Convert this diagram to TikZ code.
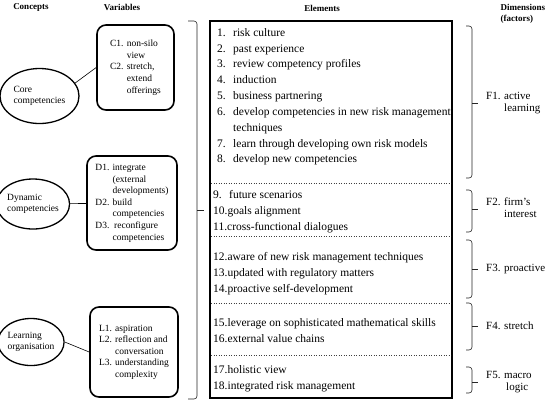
\documentclass[tikz,border=0pt]{standalone}
\usepackage{fontspec}
\setmainfont{Liberation Serif}
\usetikzlibrary{shapes.geometric}

\begin{document}
\begin{tikzpicture}[
  x=1pt, y=-1pt,
  concept/.style={ellipse, draw, line width=1.3pt, inner sep=0pt,
                  align=left, font=\fontsize{9.5}{11.5}\selectfont},
  varbox/.style={rectangle, rounded corners=9pt, draw, line width=1.6pt,
                 align=left, inner sep=0pt,
                 font=\fontsize{9.5}{11.6}\selectfont},
  header/.style={align=left, font=\fontsize{9}{11}\selectfont\bfseries},
  elem/.style={anchor=north west, align=left, inner sep=0pt,
               font=\fontsize{11.5}{15.85}\selectfont},
  factor/.style={anchor=west, inner sep=0pt,
                 font=\fontsize{11}{12.5}\selectfont},
  divider/.style={dotted, line width=0.5pt, black!75},
  brace/.style={line width=0.6pt, rounded corners=3pt, black!85},
  link/.style={line width=0.6pt}
]
\useasboundingbox (0,0) rectangle (551,400);

% column headings
\node[header] (hconc) at (31,7)   {Concepts};
\node[header] (hvar)  at (122,7)  {Variables};
\node[header] (helem) at (322,8)  {Elements};
\node[header, anchor=west] (hdim) at (497,14) {Dimensions\\(factors)};

% concepts
\node[concept, minimum width=79pt, minimum height=55pt] (core) at (39.5,96)
  {Core\\competencies};
\node[concept, minimum width=66pt, minimum height=50pt] (dyn)  at (33,204)
  {Dynamic\\competencies};
\node[concept, minimum width=62pt, minimum height=47pt] (learn) at (31,342)
  {Learning\\organisation};

% variables
\node[varbox, minimum width=77pt, minimum height=85pt] (cvar) at (135.5,67.5)
  {\begin{tabular}{@{}l@{ }l@{}}C1. & non-silo\\ & view\\C2. & stretch,\\ & extend\\ & offerings\end{tabular}};
\node[varbox, minimum width=90pt, minimum height=94pt] (dvar) at (132,203)
  {\begin{tabular}{@{}l@{ }l@{}}D1. & integrate\\ & (external\\ & developments)\\D2. & build\\ & competencies\\D3. & \,reconfigure\\ & competencies\end{tabular}};
\node[varbox, minimum width=88pt, minimum height=90pt] (lvar) at (134,352)
  {\begin{tabular}{@{}l@{ }l@{}}L1. & aspiration\\L2. & reflection and\\ & conversation\\L3. & understanding\\ & complexity\end{tabular}};

\draw[link] (core.20) -- (cvar.west);
\draw[link] (dyn) -- (dvar);
\draw[link] (learn.east) -- (lvar.west);

% elements
\node[draw, line width=1.6pt, minimum width=242pt, minimum height=377pt,
      inner sep=0pt] (elems) at (331,209.5) {};
\coordinate (d1) at (211,183);
\coordinate (d2) at (211,236);
\coordinate (d3) at (211,303);
\coordinate (d4) at (211,355);
\draw[divider] (d1) -- ++(240,0);
\draw[divider] (d2) -- ++(240,0);
\draw[divider] (d3) -- ++(240,0);
\draw[divider] (d4) -- ++(240,0);

\node[elem] (sec1) at (217,28) {%
  \makebox[16pt][l]{1.}risk culture\\
  \makebox[16pt][l]{2.}past experience\\
  \makebox[16pt][l]{3.}review competency profiles\\
  \makebox[16pt][l]{4.}induction\\
  \makebox[16pt][l]{5.}business partnering\\
  \makebox[16pt][l]{6.}develop competencies in new risk management\\
  \hspace*{16pt}techniques\\
  \makebox[16pt][l]{7.}learn through developing own risk models\\
  \makebox[16pt][l]{8.}develop new competencies};
\node[elem] (sec2) at (213,190) {%
  \makebox[16pt][l]{9.}future scenarios\\
  10.goals alignment\\
  11.cross-functional dialogues};
\node[elem] (sec3) at (213,252) {%
  12.aware of new risk management techniques\\
  13.updated with regulatory matters\\
  14.proactive self-development};
\node[elem] (sec4) at (213,318) {%
  15.leverage on sophisticated mathematical skills\\
  16.external value chains};
\node[elem] (sec5) at (213,365) {%
  17.holistic view\\
  18.integrated risk management};

% brace gathering the variables
\draw[brace] (188,21) -- (197,21) -- (197,399) -- (188,399);
\draw[brace] (197,210) -- (204,210);

% factor braces
\draw[brace] (466,26) -- (472,26) -- (472,178) -- (466,178);
\draw[brace] (472,103) -- (478,103);
\draw[brace] (466,190) -- (472,190) -- (472,232) -- (466,232);
\draw[brace] (472,209) -- (478,209);
\draw[brace] (466,240) -- (472,240) -- (472,298) -- (466,298);
\draw[brace] (472,269) -- (478,269);
\draw[brace] (466,303) -- (472,303) -- (472,350) -- (466,350);
\draw[brace] (472,326) -- (478,326);
\draw[brace] (466,367) -- (472,367) -- (472,393) -- (466,393);
\draw[brace] (472,382) -- (478,382);

% factors
\node[factor] (f1) at (486,103)
  {\begin{tabular}{@{}l@{ }l@{}}F1. & active\\ & learning\end{tabular}};
\node[factor] (f2) at (486,209)
  {\begin{tabular}{@{}l@{ }l@{}}F2. & firm's\\ & interest\end{tabular}};
\node[factor] (f3) at (486,269) {F3. proactive};
\node[factor] (f4) at (486,326) {F4. stretch};
\node[factor] (f5) at (486,382)
  {\begin{tabular}{@{}l@{ }l@{}}F5. & macro\\ & \hspace{2pt}logic\end{tabular}};
\end{tikzpicture}
\end{document}
